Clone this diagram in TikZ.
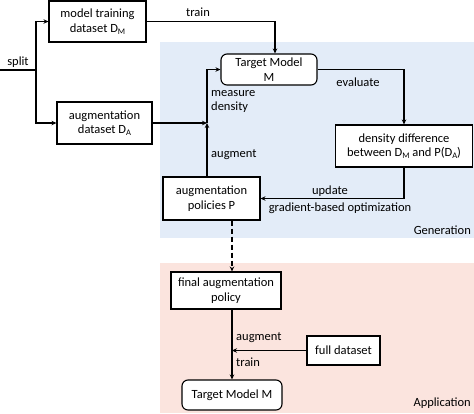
\documentclass[tikz,border=0pt]{standalone}
\usepackage{fontspec}
\setmainfont{Carlito}
\usetikzlibrary{arrows.meta,calc}
\newcommand\subsc[1]{\raisebox{-0.35ex}{\fontsize{8.5}{9}\selectfont #1}}
\definecolor{genbg}{RGB}{227,236,248}
\definecolor{appbg}{RGB}{251,228,222}
\tikzset{
  box/.style={draw=black,line width=1.1pt,fill=white,align=center,inner sep=1pt,font=\fontsize{12.5}{14.5}\selectfont},
  rbox/.style={box,rounded corners=6pt},
  lbl/.style={inner sep=0pt,font=\fontsize{12.5}{14.5}\selectfont},
  conn/.style={line width=1.1pt,draw=black},
  arr/.style={conn,-{Stealth[length=5pt,width=4.5pt]}}
}
\begin{document}
\begin{tikzpicture}[x=1pt,y=-1pt]
\useasboundingbox (0,0) rectangle (474,413);
% backgrounds
\fill[genbg] (160,42) rectangle (474,238);
\fill[appbg] (160,263) rectangle (474,413);
% nodes
\node[box,minimum width=97pt,minimum height=41pt] (mtd) at (97.5,21.5) {model training\\dataset D\subsc{M}};
\node[box,minimum width=95pt,minimum height=42pt] (aug) at (104.5,123) {augmentation\\dataset D\subsc{A}};
\node[rbox,minimum width=96pt,minimum height=31pt] (tm) at (269,69.5) {Target Model\\M};
\node[box,minimum width=137pt,minimum height=42pt] (dd) at (404,146) {density difference\\between D\subsc{M} and P(D\subsc{A})};
\node[box,minimum width=97pt,minimum height=43pt] (ap) at (211.5,198.5) {augmentation\\policies P};
\node[box,minimum width=110pt,minimum height=37pt] (fa) at (226,290.5) {final augmentation\\policy};
\node[box,minimum width=73pt,minimum height=29pt] (fd) at (343.5,350.5) {full dataset};
\node[rbox,minimum width=100pt,minimum height=30pt] (tb) at (232,395) {Target Model M};
% coordinates
\coordinate (s0) at (0,70);
\coordinate (sj) at (36,70);
\coordinate (j) at (207,123);
\coordinate (cx) at (232,0);
\coordinate (tmin) at ($(tm.north)+(6,0)$);
% connectors
\draw[conn] (s0) -- (sj);
\draw[arr] (sj) |- (mtd.west);
\draw[arr] (sj) |- (aug.west);
\draw[arr] (mtd.east) -| (tmin);
\draw[arr] (aug.east) -- (j);
\draw[arr] (j |- ap.north) -- (j);
\draw[arr] (j) |- (tm.west);
\draw[arr] (tm.east) -| (dd.north);
\draw[arr] (dd.south) |- (ap.east);
\draw[arr,dashed,dash pattern=on 5pt off 3pt] (ap.south -| cx) -- (fa.north -| cx);
\draw[arr] (fa.south -| cx) -- (tb.north);
\draw[arr] (fd.west) -- (fd.west -| cx);
% labels
\node[lbl] (lsplit) at (18,62) {split};
\node[lbl] (ltrain) at (198,12) {train};
\node[lbl,anchor=north west,align=left] (lmeas) at (211,90) {measure\\density};
\node[lbl,anchor=west] (laug) at (211,155) {augment};
\node[lbl] (leval) at (358,82) {evaluate};
\node[lbl] (lupd) at (330,191) {update};
\node[lbl] (lgrad) at (340,208) {gradient-based optimization};
\node[lbl,anchor=east] (lgen) at (471,230) {Generation};
\node[lbl,anchor=west] (laug2) at (236,338) {augment};
\node[lbl,anchor=west] (ltrain2) at (236,362) {train};
\node[lbl,anchor=east] (lapp) at (471,403) {Application};
\end{tikzpicture}
\end{document}
